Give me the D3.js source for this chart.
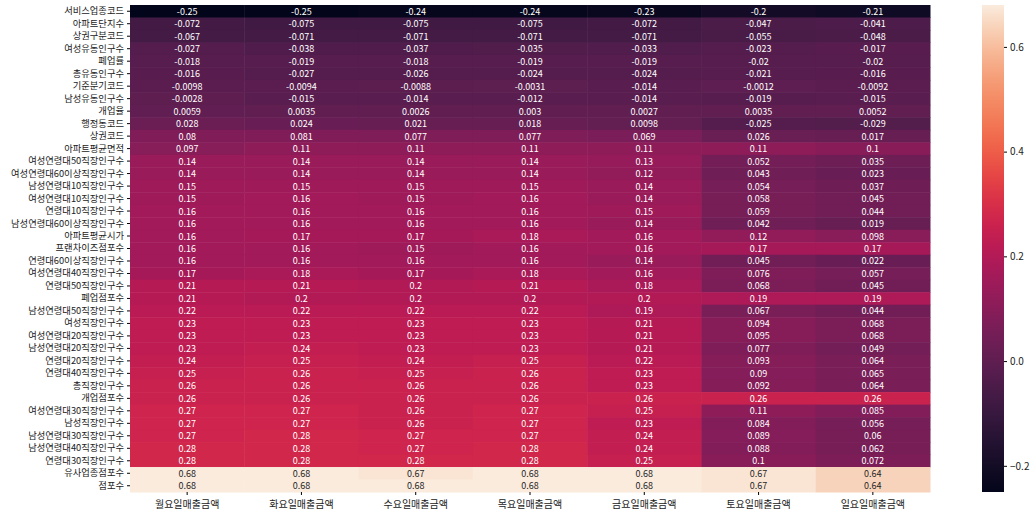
<!DOCTYPE html>
<html><head><meta charset="utf-8">
<script src="https://cdn.jsdelivr.net/npm/d3@7"></script>
<style>body{margin:0;background:#fff}text{font-family:"Noto Sans CJK KR","Noto Sans",sans-serif}</style>
</head><body><svg id="c" width="1036" height="514"></svg>
<script>
const columns=["월요일매출금액","화요일매출금액","수요일매출금액","목요일매출금액","금요일매출금액","토요일매출금액","일요일매출금액"];
const rows=["서비스업종코드","아파트단지수","상권구분코드","여성유동인구수","폐업률","총유동인구수","기준분기코드","남성유동인구수","개업율","행정동코드","상권코드","아파트평균면적","여성연령대50직장인구수","여성연령대60이상직장인구수","남성연령대10직장인구수","여성연령대10직장인구수","연령대10직장인구수","남성연령대60이상직장인구수","아파트평균시가","프랜차이즈점포수","연령대60이상직장인구수","여성연령대40직장인구수","연령대50직장인구수","폐업점포수","남성연령대50직장인구수","여성직장인구수","여성연령대20직장인구수","남성연령대20직장인구수","연령대20직장인구수","연령대40직장인구수","총직장인구수","개업점포수","여성연령대30직장인구수","남성직장인구수","남성연령대30직장인구수","남성연령대40직장인구수","연령대30직장인구수","유사업종점포수","점포수"];
const values=[
[-0.25,-0.25,-0.24,-0.24,-0.23,-0.2,-0.21],
[-0.072,-0.075,-0.075,-0.075,-0.072,-0.047,-0.041],
[-0.067,-0.071,-0.071,-0.071,-0.071,-0.055,-0.048],
[-0.027,-0.038,-0.037,-0.035,-0.033,-0.023,-0.017],
[-0.018,-0.019,-0.018,-0.019,-0.019,-0.02,-0.02],
[-0.016,-0.027,-0.026,-0.024,-0.024,-0.021,-0.016],
[-0.0098,-0.0094,-0.0088,-0.0031,-0.014,-0.0012,-0.0092],
[-0.0028,-0.015,-0.014,-0.012,-0.014,-0.019,-0.015],
[0.0059,0.0035,0.0026,0.003,0.0027,0.0035,0.0052],
[0.028,0.024,0.021,0.018,0.0098,-0.025,-0.029],
[0.08,0.081,0.077,0.077,0.069,0.026,0.017],
[0.097,0.11,0.11,0.11,0.11,0.11,0.1],
[0.14,0.14,0.14,0.14,0.13,0.052,0.035],
[0.14,0.14,0.14,0.14,0.12,0.043,0.023],
[0.15,0.15,0.15,0.15,0.14,0.054,0.037],
[0.15,0.16,0.15,0.16,0.14,0.058,0.045],
[0.16,0.16,0.16,0.16,0.15,0.059,0.044],
[0.16,0.16,0.16,0.16,0.14,0.042,0.019],
[0.16,0.17,0.17,0.18,0.16,0.12,0.098],
[0.16,0.16,0.15,0.16,0.16,0.17,0.17],
[0.16,0.16,0.16,0.16,0.14,0.045,0.022],
[0.17,0.18,0.17,0.18,0.16,0.076,0.057],
[0.21,0.21,0.2,0.21,0.18,0.068,0.045],
[0.21,0.2,0.2,0.2,0.2,0.19,0.19],
[0.22,0.22,0.22,0.22,0.19,0.067,0.044],
[0.23,0.23,0.23,0.23,0.21,0.094,0.068],
[0.23,0.23,0.23,0.23,0.21,0.095,0.068],
[0.23,0.24,0.23,0.23,0.21,0.077,0.049],
[0.24,0.25,0.24,0.25,0.22,0.093,0.064],
[0.25,0.26,0.25,0.26,0.23,0.09,0.065],
[0.26,0.26,0.26,0.26,0.23,0.092,0.064],
[0.26,0.26,0.26,0.26,0.26,0.26,0.26],
[0.27,0.27,0.26,0.27,0.25,0.11,0.085],
[0.27,0.27,0.26,0.27,0.23,0.084,0.056],
[0.27,0.28,0.27,0.27,0.24,0.089,0.06],
[0.28,0.28,0.27,0.28,0.24,0.088,0.062],
[0.28,0.28,0.28,0.28,0.25,0.1,0.072],
[0.68,0.68,0.67,0.68,0.68,0.67,0.64],
[0.68,0.68,0.68,0.68,0.68,0.67,0.64]];
const cbTicks=[0.6,0.4,0.2,0.0,-0.2];

const rocketStops=["#03051a","#221331","#451c47","#6a1f56","#921c5b","#b91657","#dd2c45","#f06043","#f58860","#f6b48e","#faebdd"];
const rocket=d3.interpolateRgbBasis(rocketStops);
const vmin=-0.25,vmax=0.68;
const color=v=>rocket((v-vmin)/(vmax-vmin));

const svg=d3.select("#c");
const L=130,R=930,T=5,B=492;
const x=d3.scaleBand().domain(columns).range([L,R]);
const y=d3.scaleBand().domain(rows).range([T,B]);
const cells=[];
values.forEach((r,i)=>r.forEach((v,j)=>cells.push({r:rows[i],c:columns[j],v})));
svg.append("g").selectAll("rect").data(cells).join("rect")
 .attr("x",d=>x(d.c)).attr("y",d=>y(d.r)).attr("width",x.bandwidth()+0.5).attr("height",y.bandwidth()+0.5)
 .attr("fill",d=>color(d.v));
function lum(c){const o=d3.rgb(c);const f=u=>{u/=255;return u<=0.03928?u/12.92:Math.pow((u+0.055)/1.055,2.4)};return 0.2126*f(o.r)+0.7152*f(o.g)+0.0722*f(o.b);}
svg.append("g").selectAll("text").data(cells).join("text")
 .attr("x",d=>x(d.c)+x.bandwidth()/2).attr("y",d=>y(d.r)+y.bandwidth()/2)
 .attr("text-anchor","middle").attr("dominant-baseline","central").attr("font-size",9)
 .attr("fill",d=>lum(color(d.v))>0.408?"#262626":"#ffffff").text(d=>d.v);

const ya=svg.append("g").attr("transform",`translate(${L},0)`).call(d3.axisLeft(y).tickSize(3));
ya.select(".domain").remove();
ya.selectAll("text").attr("font-size",9.3).attr("fill","#222");
const xa=svg.append("g").attr("transform",`translate(0,${B})`).call(d3.axisBottom(x).tickSize(3));
xa.select(".domain").remove();
xa.selectAll("text").attr("font-size",10).attr("fill","#222").attr("dy","1em");

// colorbar
const cx=982,cw=22;
const cy=d3.scaleLinear().domain([vmin,vmax]).range([B,T]);
const defs=svg.append("defs");
const g=defs.append("linearGradient").attr("id","cb").attr("x1",0).attr("y1",1).attr("x2",0).attr("y2",0);
d3.range(0,1.001,0.05).forEach(t=>g.append("stop").attr("offset",t).attr("stop-color",rocket(t)));
svg.append("rect").attr("x",cx).attr("y",T).attr("width",cw).attr("height",B-T).attr("fill","url(#cb)");
const ca=svg.append("g").attr("transform",`translate(${cx+cw},0)`).call(d3.axisRight(cy).tickValues(cbTicks).tickSize(3).tickFormat(d=>d3.format(".1f")(d).replace("-","−")));
ca.select(".domain").remove();
ca.selectAll("text").attr("font-size",10).attr("fill","#222");
</script></body></html>
